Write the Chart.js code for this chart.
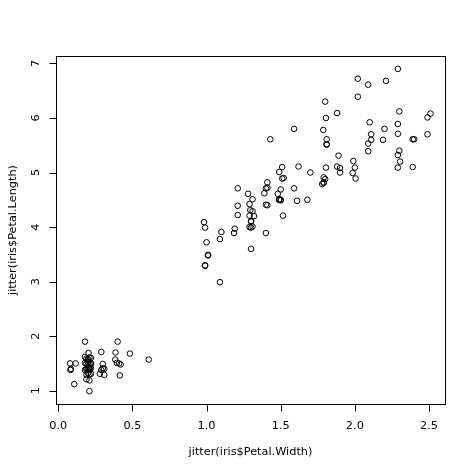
<!DOCTYPE html>
<html>
<head>
<meta charset="utf-8">
<script src="https://cdn.jsdelivr.net/npm/chart.js@4/dist/chart.umd.min.js"></script>
<style>
  html, body { margin: 0; padding: 0; background: #fff; }
  #plot { display: block; }
</style>
</head>
<body>
<canvas id="plot" width="474" height="474"></canvas>
<script>
// jitter(iris$Petal.Width)
const petalWidth = [
  0.19, 0.21, 0.22, 0.18, 0.21, 0.386, 0.31, 0.22, 0.18, 0.079,
  0.20, 0.21, 0.085, 0.108, 0.19, 0.395, 0.415, 0.29, 0.29, 0.30,
  0.204, 0.42, 0.21, 0.483, 0.18, 0.19, 0.384, 0.21, 0.20, 0.22,
  0.18, 0.41, 0.117, 0.22, 0.19, 0.21, 0.19, 0.082, 0.21, 0.22,
  0.28, 0.31, 0.20, 0.61, 0.40, 0.30, 0.20, 0.19, 0.20, 0.21,
  1.40, 1.49, 1.51, 1.29, 1.48, 1.31, 1.59, 0.99, 1.28, 1.40,
  1.01, 1.515, 0.99, 1.41, 1.30, 1.40, 1.50, 0.983, 1.49, 1.10,
  1.79, 1.31, 1.52, 1.21, 1.295, 1.41, 1.41, 1.70, 1.49, 1.01,
  1.09, 1.00, 1.185, 1.62, 1.50, 1.61, 1.50, 1.29, 1.30, 1.30,
  1.21, 1.39, 1.19, 0.99, 1.32, 1.21, 1.29, 1.31, 1.09, 1.30,
  2.49, 1.88, 2.10, 1.81, 2.20, 2.09, 1.68, 1.80, 1.787, 2.51,
  2.00, 1.89, 2.09, 1.985, 2.39, 2.29, 1.81, 2.21, 2.29, 1.49,
  2.29, 2.005, 2.02, 1.79, 2.11, 1.805, 1.78, 1.80, 2.11, 1.59,
  1.88, 2.02, 2.19, 1.51, 1.43, 2.30, 2.39, 1.81, 1.79, 2.09,
  2.40, 2.29, 1.90, 2.29, 2.49, 2.305, 1.90, 1.99, 2.30, 1.805
];

// jitter(iris$Petal.Length)
const petalLength = [
  1.41, 1.39, 1.31, 1.51, 1.42, 1.70, 1.40, 1.49, 1.38, 1.50,
  1.52, 1.61, 1.40, 1.12, 1.21, 1.51, 1.28, 1.38, 1.71, 1.49,
  1.69, 1.48, 0.99, 1.68, 1.90, 1.59, 1.57, 1.49, 1.40, 1.60,
  1.62, 1.50, 1.50, 1.41, 1.50, 1.19, 1.29, 1.38, 1.30, 1.51,
  1.31, 1.29, 1.32, 1.57, 1.90, 1.41, 1.58, 1.39, 1.48, 1.40,
  4.71, 4.50, 4.89, 4.00, 4.61, 4.51, 4.71, 3.29, 4.61, 3.89,
  3.48, 4.21, 3.99, 4.72, 3.60, 4.41, 4.49, 4.09, 4.51, 3.91,
  4.81, 4.01, 4.90, 4.71, 4.31, 4.40, 4.82, 5.00, 4.50, 3.49,
  3.78, 3.72, 3.89, 5.11, 4.50, 4.48, 4.69, 4.42, 4.10, 3.99,
  4.39, 4.62, 3.97, 3.30, 4.20, 4.22, 4.21, 4.29, 2.99, 4.11,
  6.01, 5.11, 5.92, 5.61, 5.80, 6.61, 4.50, 6.30, 5.78, 6.08,
  5.09, 5.31, 5.53, 4.99, 5.10, 5.32, 5.52, 6.68, 6.90, 5.01,
  5.71, 4.89, 6.72, 4.91, 5.70, 6.00, 4.79, 4.88, 5.60, 5.80,
  6.09, 6.39, 5.60, 5.10, 5.61, 6.12, 5.61, 5.51, 4.82, 5.39,
  5.61, 5.09, 5.08, 5.89, 5.70, 5.20, 5.00, 5.21, 5.40, 5.09
];

const xTicks = [0, 0.5, 1, 1.5, 2, 2.5];
const xTickLabels = ['0.0', '0.5', '1.0', '1.5', '2.0', '2.5'];
const yTicks = [1, 2, 3, 4, 5, 6, 7];
const yTickLabels = ['1', '2', '3', '4', '5', '6', '7'];
const xTitle = 'jitter(iris$Petal.Width)';
const yTitle = 'jitter(iris$Petal.Length)';

const points = petalWidth.map((w, i) => ({ x: w, y: petalLength[i] }));

const FONT = '11.3px "DejaVu Sans"';

// base-graphics style frame, ticks and labels
const rAxes = {
    id: 'rAxes',
    afterDraw(chart) {
        const ctx = chart.ctx;
        const a = chart.chartArea;
        const xs = chart.scales.x;
        const ys = chart.scales.y;
        const tl = 7;
        ctx.save();
        ctx.strokeStyle = '#000';
        ctx.lineWidth = 1;
        ctx.strokeRect(a.left + 0.5, a.top + 0.5, a.right - a.left, a.bottom - a.top);

        ctx.beginPath();
        xTicks.forEach(v => {
            const px = Math.round(xs.getPixelForValue(v)) + 0.5;
            ctx.moveTo(px, a.bottom + 0.5);
            ctx.lineTo(px, a.bottom + 0.5 + tl);
        });
        yTicks.forEach(v => {
            const py = Math.round(ys.getPixelForValue(v)) + 0.5;
            ctx.moveTo(a.left + 0.5, py);
            ctx.lineTo(a.left + 0.5 - tl, py);
        });
        ctx.stroke();

        ctx.fillStyle = '#000';
        ctx.font = FONT;
        ctx.textAlign = 'center';
        ctx.textBaseline = 'middle';
        xTicks.forEach((v, i) => {
            ctx.fillText(xTickLabels[i], xs.getPixelForValue(v), 426);
        });
        ctx.fillText(xTitle, (a.left + a.right) / 2, 452);

        yTicks.forEach((v, i) => {
            ctx.save();
            ctx.translate(36, ys.getPixelForValue(v));
            ctx.rotate(-Math.PI / 2);
            ctx.fillText(yTickLabels[i], 0, 0);
            ctx.restore();
        });
        ctx.save();
        ctx.translate(13, (a.top + a.bottom) / 2);
        ctx.rotate(-Math.PI / 2);
        ctx.fillText(yTitle, 0, 0);
        ctx.restore();
        ctx.restore();
    }
};

new Chart(document.getElementById('plot'), {
    type: 'scatter',
    data: {
        datasets: [{
            data: points,
            pointStyle: 'circle',
            pointRadius: 2.8,
            pointBorderWidth: 1,
            borderColor: '#000',
            backgroundColor: 'rgba(0,0,0,0)'
        }]
    },
    options: {
        responsive: false,
        animation: false,
        devicePixelRatio: 1,
        layout: { padding: { left: 56, right: 29, top: 56, bottom: 70 } },
        scales: {
            x: { type: 'linear', min: -0.0155, max: 2.608, display: false },
            y: { type: 'linear', min: 0.756, max: 7.136, display: false }
        },
        plugins: {
            legend: { display: false },
            tooltip: { enabled: false }
        }
    },
    plugins: [rAxes]
});
</script>
</body>
</html>
